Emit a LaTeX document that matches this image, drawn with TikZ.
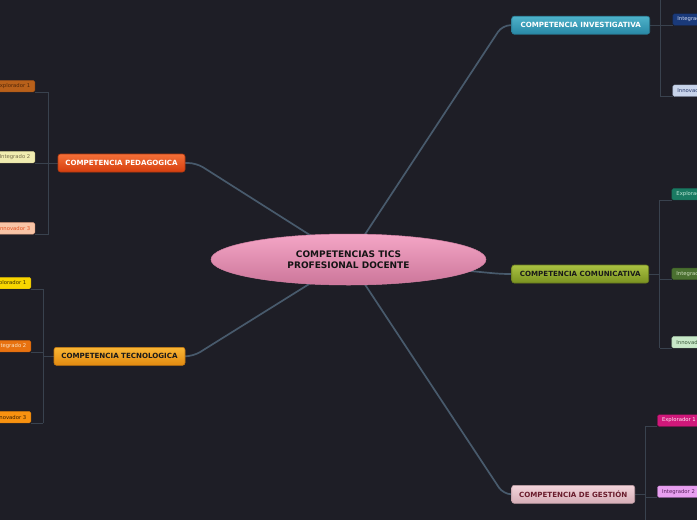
\documentclass[tikz,border=0pt]{standalone}
\usepackage{fontspec}
\setmainfont{DejaVu Sans}
\usetikzlibrary{shapes.geometric}
\definecolor{bg}{HTML}{1E1E26}
\definecolor{mline}{HTML}{485A6C}
\definecolor{lline}{HTML}{39424E}
\definecolor{elltop}{RGB}{244,166,198}
\definecolor{ellmid}{RGB}{228,140,176}
\definecolor{ellbot}{RGB}{204,118,154}
\pgfdeclarelayer{behind}
\pgfsetlayers{behind,main}
\begin{document}
\begin{tikzpicture}[x=1pt,y=-1pt,
  branch/.style={rounded corners=2.5pt, minimum height=18pt, inner xsep=3pt, inner ysep=0pt,
    font=\fontsize{7.1}{8}\selectfont\bfseries, line width=0.6pt},
  leaf/.style={rounded corners=1.5pt, minimum height=11.5pt, inner xsep=4.5pt, inner ysep=0pt,
    font=\fontsize{5.3}{6}\selectfont, line width=0.4pt},
  mainline/.style={draw=mline, line width=1.7pt, rounded corners=8pt, line cap=round},
  leafline/.style={draw=lline, line width=0.9pt}]
\useasboundingbox (0,0) rectangle (697,520);
\clip (0,0) rectangle (697,520);
\begin{pgfonlayer}{behind}
\fill[bg] (0,0) rectangle (697,520);
\end{pgfonlayer}

% central node
\node[ellipse, minimum width=275pt, minimum height=51pt, inner sep=0pt,
  top color=elltop, middle color=ellmid, bottom color=ellbot,
  draw={rgb,255:red,214;green,130;blue,166}, line width=0.5pt, align=center,
  font=\fontsize{9}{10.7}\selectfont\bfseries, text=black!92]
  (cen) at (348.5,259.5) {COMPETENCIAS TICS\\PROFESIONAL DOCENTE};

% branches
\node[branch, minimum width=127pt, top color={rgb,255:red,244;green,112;blue,56}, bottom color={rgb,255:red,214;green,62;blue,14}, draw={rgb,255:red,180;green,58;blue,16}, text=white]
  (ped) at (121.5,163) {COMPETENCIA PEDAGOGICA};
\node[branch, minimum width=131pt, top color={rgb,255:red,250;green,182;blue,52}, bottom color={rgb,255:red,226;green,138;blue,16}, draw={rgb,255:red,196;green,120;blue,16}, text=black!90]
  (tec) at (119.5,356.3) {COMPETENCIA TECNOLOGICA};
\node[branch, minimum width=138pt, top color={rgb,255:red,78;green,178;blue,202}, bottom color={rgb,255:red,40;green,136;blue,166}, draw={rgb,255:red,40;green,118;blue,142}, text=white]
  (inv) at (580.7,25.2) {COMPETENCIA INVESTIGATIVA};
\node[branch, minimum width=137pt, top color={rgb,255:red,170;green,194;blue,66}, bottom color={rgb,255:red,122;green,146;blue,32}, draw={rgb,255:red,104;green,122;blue,30}, text=black!90]
  (com) at (580.2,274) {COMPETENCIA COMUNICATIVA};
\node[branch, minimum width=123pt, top color={rgb,255:red,242;green,212;blue,218}, bottom color={rgb,255:red,214;green,174;blue,182}, draw={rgb,255:red,190;green,156;blue,164}, text={rgb,255:red,106;green,28;blue,44}]
  (ges) at (573.2,494.3) {COMPETENCIA DE GESTIÓN};

% leaves - pedagogica
\node[leaf, anchor=east, fill={rgb,255:red,184;green,96;blue,26}, draw={rgb,255:red,150;green,76;blue,20}, text={rgb,255:red,80;green,38;blue,8}] (P1) at (35,86.2) {Explorador 1};
\node[leaf, anchor=east, fill={rgb,255:red,240;green,236;blue,176}, draw={rgb,255:red,210;green,204;blue,140}, text={rgb,255:red,120;green,112;blue,76}] (P2) at (35,157.2) {Integrado 2};
\node[leaf, anchor=east, fill={rgb,255:red,248;green,196;blue,166}, draw={rgb,255:red,224;green,160;blue,130}, text={rgb,255:red,226;green,82;blue,34}] (P3) at (35,228.3) {Innovador 3};
% leaves - tecnologica
\node[leaf, anchor=east, fill={rgb,255:red,248;green,214;blue,0}, draw={rgb,255:red,214;green,180;blue,0}, text={rgb,255:red,60;green,48;blue,0}] (T1) at (31,283) {Explorador 1};
\node[leaf, anchor=east, fill={rgb,255:red,232;green,114;blue,16}, draw={rgb,255:red,200;green,94;blue,10}, text={rgb,255:red,250;green,226;blue,196}] (T2) at (31,346.2) {Integrado 2};
\node[leaf, anchor=east, fill={rgb,255:red,248;green,146;blue,16}, draw={rgb,255:red,214;green,122;blue,10}, text={rgb,255:red,60;green,32;blue,0}] (T3) at (31,417.2) {Innovador 3};
% leaves - investigativa
\node[leaf, anchor=west, fill={rgb,255:red,26;green,58;blue,122}, draw={rgb,255:red,20;green,44;blue,96}, text={rgb,255:red,210;green,218;blue,240}] (I2) at (672.7,19.5) {Integrador 2};
\node[leaf, anchor=west, fill={rgb,255:red,200;green,212;blue,234}, draw={rgb,255:red,168;green,182;blue,208}, text={rgb,255:red,42;green,58;blue,106}] (I3) at (672.7,90.7) {Innovador 3};
% leaves - comunicativa
\node[leaf, anchor=west, fill={rgb,255:red,26;green,122;blue,98}, draw={rgb,255:red,20;green,100;blue,80}, text={rgb,255:red,192;green,232;blue,216}] (C1) at (671.7,194.2) {Explorador 1};
\node[leaf, anchor=west, fill={rgb,255:red,74;green,112;blue,48}, draw={rgb,255:red,58;green,92;blue,36}, text={rgb,255:red,208;green,224;blue,192}] (C2) at (671.7,273.8) {Integrador 2};
\node[leaf, anchor=west, fill={rgb,255:red,200;green,232;blue,200}, draw={rgb,255:red,164;green,200;blue,164}, text={rgb,255:red,58;green,90;blue,58}] (C3) at (671.7,342.2) {Innovador 3};
% leaves - gestion
\node[leaf, anchor=west, fill={rgb,255:red,208;green,24;blue,122}, draw={rgb,255:red,176;green,16;blue,100}, text={rgb,255:red,255;green,236;blue,246}] (G1) at (657.3,420.5) {Explorador 1};
\node[leaf, anchor=west, fill={rgb,255:red,232;green,160;blue,240}, draw={rgb,255:red,204;green,130;blue,214}, text={rgb,255:red,90;green,32;blue,96}] (G2) at (657.3,491.7) {Integrador 2};

% bracket coordinates
\coordinate (bp) at (48.7,0);
\coordinate (bt) at (43.3,0);
\coordinate (itop) at (660.3,-4);
\coordinate (bc) at (659.7,0);
\coordinate (gbot) at (645.3,530);

\begin{pgfonlayer}{behind}
% main connectors
\draw[mainline] (cen.center) -- ([xshift=11pt]ped.east) -- (ped.east);
\draw[mainline] (cen.center) -- ([xshift=8pt]tec.east) -- (tec.east);
\draw[mainline] (cen.center) -- ([xshift=-9pt]inv.west) -- (inv.west);
\draw[mainline] (cen.center) -- ([xshift=-10pt]com.west) -- (com.west);
\draw[mainline] (cen.center) -- ([xshift=-8pt]ges.west) -- (ges.west);

% pedagogica leaves
\draw[leafline] (ped.west) -- (ped.west -| bp);
\draw[leafline] (P1.south east -| bp) -- (P3.south east -| bp);
\draw[leafline] (P1.south east) -- (P1.south east -| bp);
\draw[leafline] (P2.south east) -- (P2.south east -| bp);
\draw[leafline] (P3.south east) -- (P3.south east -| bp);
% tecnologica leaves
\draw[leafline] (tec.west) -- (tec.west -| bt);
\draw[leafline] (T1.south east -| bt) -- (T3.south east -| bt);
\draw[leafline] (T1.south east) -- (T1.south east -| bt);
\draw[leafline] (T2.south east) -- (T2.south east -| bt);
\draw[leafline] (T3.south east) -- (T3.south east -| bt);
% investigativa leaves
\draw[leafline] (inv.east) -- (inv.east -| itop);
\draw[leafline] (itop) -- (I3.south west -| itop);
\draw[leafline] (I2.south west) -- (I2.south west -| itop);
\draw[leafline] (I3.south west) -- (I3.south west -| itop);
% comunicativa leaves
\draw[leafline] (com.east) -- (com.east -| bc);
\draw[leafline] (C1.south west -| bc) -- (C3.south west -| bc);
\draw[leafline] (C1.south west) -- (C1.south west -| bc);
\draw[leafline] (C2.south west) -- (C2.south west -| bc);
\draw[leafline] (C3.south west) -- (C3.south west -| bc);
% gestion leaves
\draw[leafline] (ges.east) -- (ges.east -| gbot);
\draw[leafline] (G1.south west -| gbot) -- (gbot);
\draw[leafline] (G1.south west) -- (G1.south west -| gbot);
\draw[leafline] (G2.south west) -- (G2.south west -| gbot);
\end{pgfonlayer}
\end{tikzpicture}
\end{document}
